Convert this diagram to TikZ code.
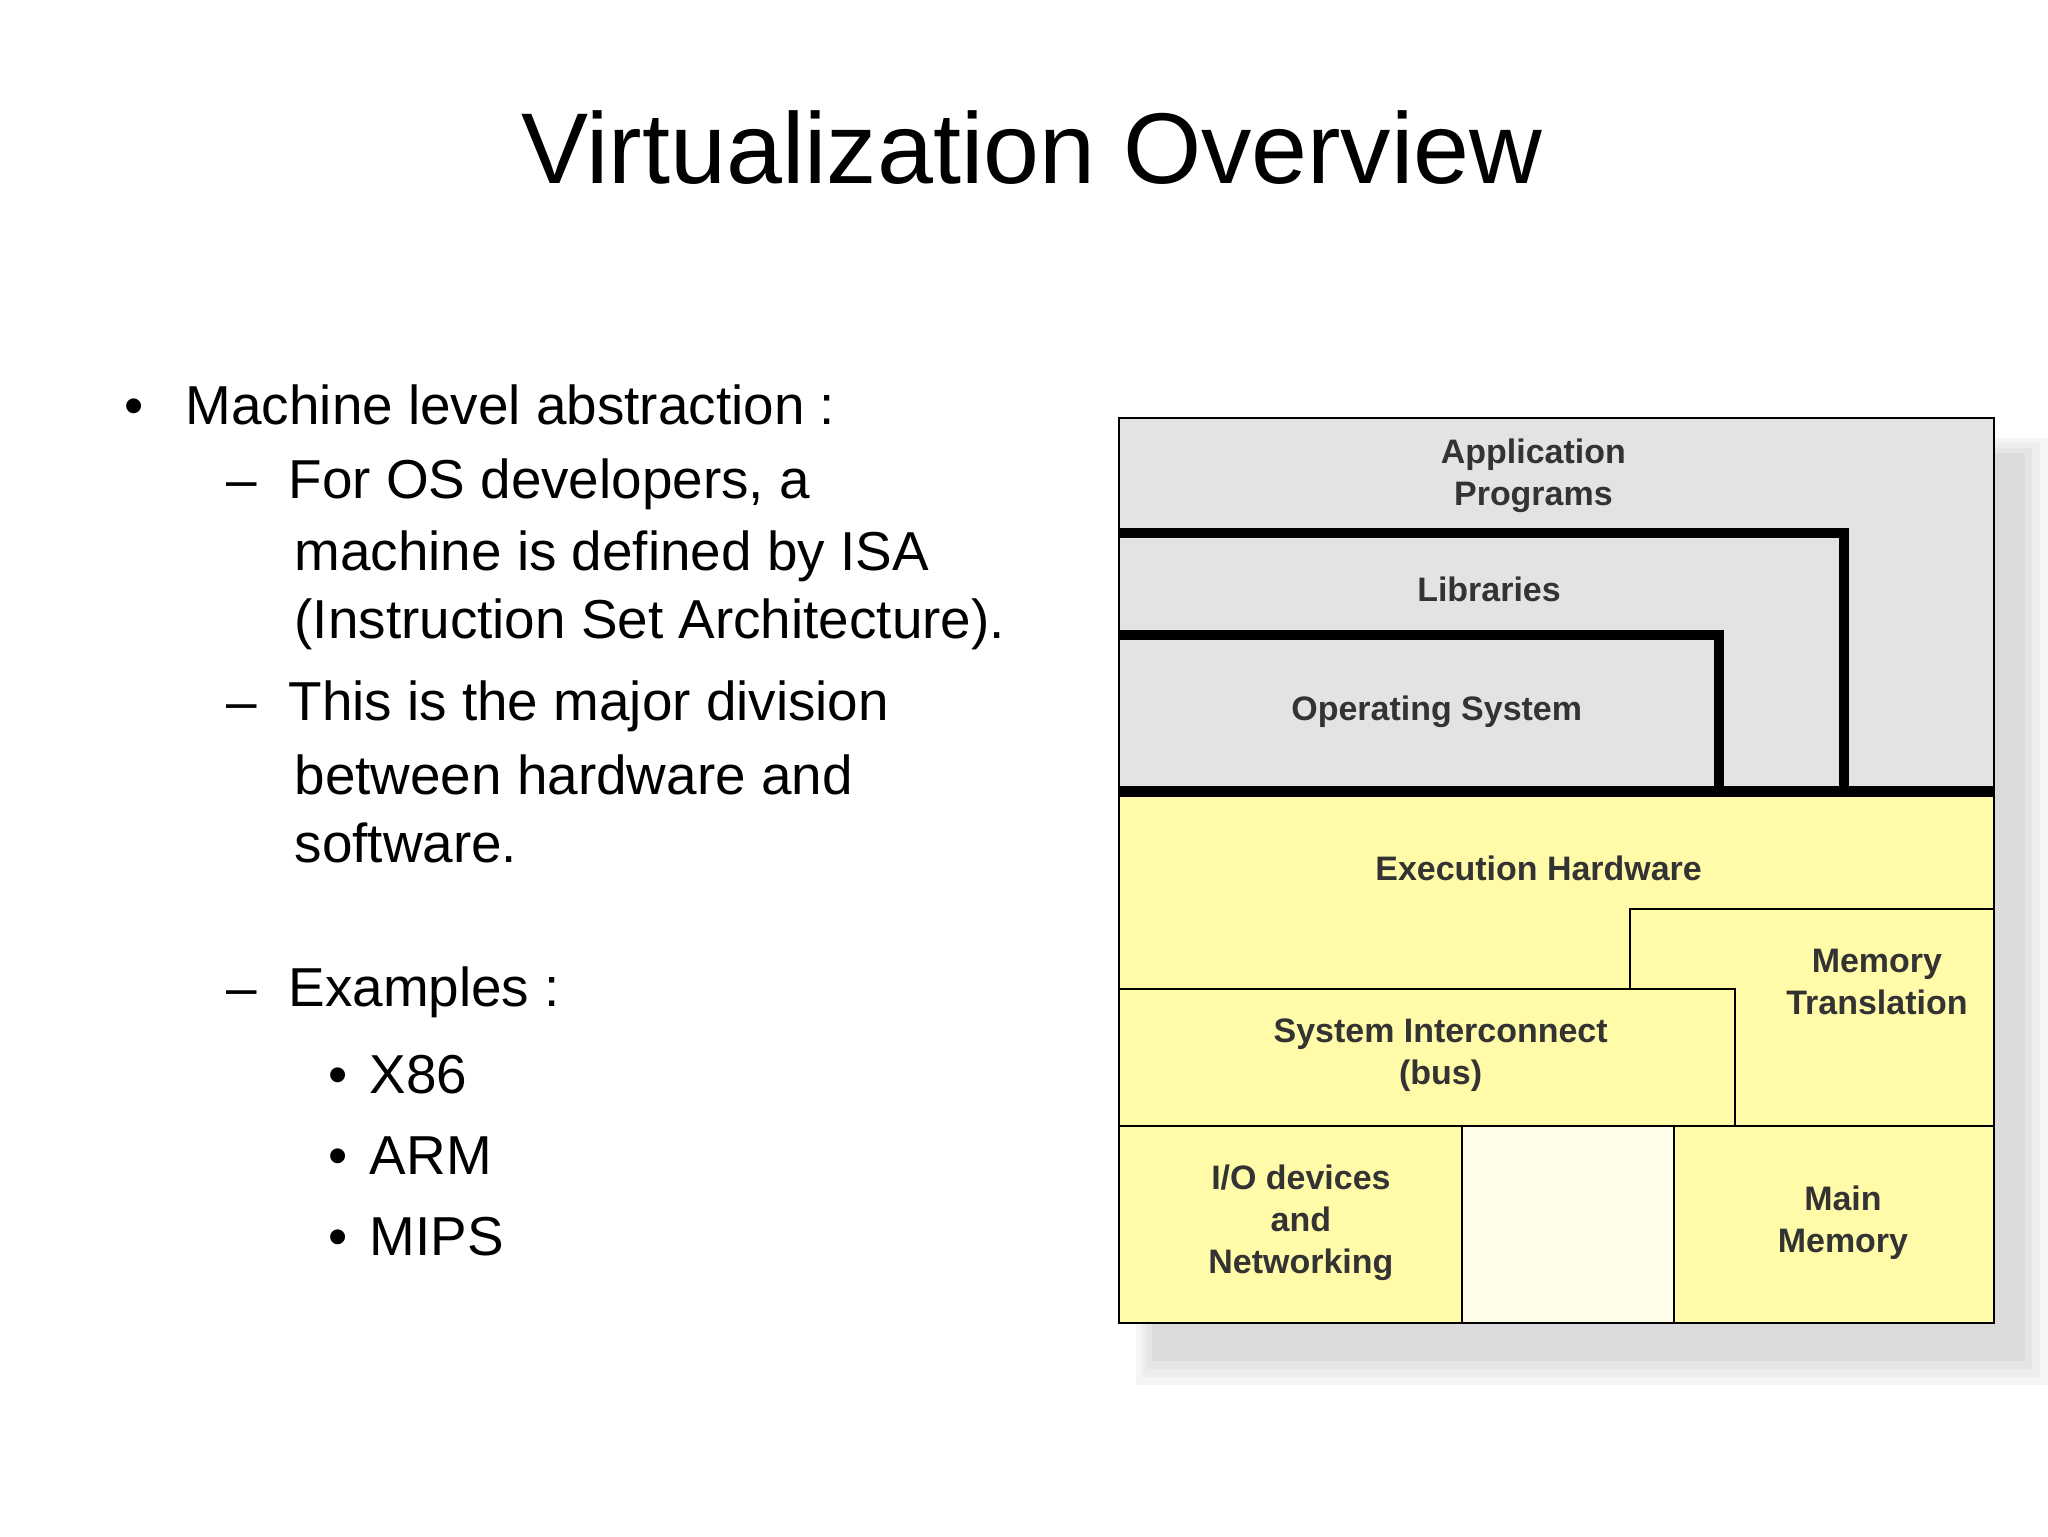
\documentclass[tikz,border=0pt]{standalone}
\usepackage{fontspec}
\setmainfont{Liberation Sans}
\definecolor{grayfill}{HTML}{E3E3E3}
\definecolor{yel}{HTML}{FFFBA8}
\definecolor{pale}{HTML}{FFFDE8}
\begin{document}
\begin{tikzpicture}[x=1pt,y=-1pt,
  lbl/.style={font=\fontsize{26}{32}\selectfont\bfseries\color{black!80}, align=center},
  body/.style={font=\fontsize{42}{52}\selectfont, anchor=west},
  thin/.style={draw=black, line width=1.5pt},
  thick/.style={draw=black, line width=8pt}]
\useasboundingbox (0,0) rectangle (1568,1176);
\fill[white] (0,0) rectangle (1568,1176);
% shadow
\foreach \i/\c in {0/black!4,1/black!7,2/black!10,3/black!14}{
  \fill[\c] (870+4*\i,335+4*\i) rectangle (1568-6*\i,1060-6*\i);}
\node (title) at (790,113) {\fontsize{77}{90}\selectfont Virtualization Overview};
% bullets
\node[body] (b1) at (92,310) {•\hspace{32pt}Machine level abstraction :};
\node[body, anchor=north west, align=left] (b2) at (170,348) {–\hspace{24pt}For OS developers, a};
\node[body] (b2a) at (222,426) {machine is defined by ISA};
\node[body] (b2b) at (222,478) {(Instruction Set Architecture).};
\node[body] (b3) at (170,541) {–\hspace{24pt}This is the major division};
\node[body] (b3a) at (222,593) {between hardware and};
\node[body] (b3b) at (222,645) {software.};
\node[body] (b4) at (170,760) {–\hspace{24pt}Examples :};
\node[body] (e1) at (248,823) {•\hspace{17pt}X86};
\node[body] (e2) at (248,885) {•\hspace{17pt}ARM};
\node[body] (e3) at (248,947) {•\hspace{17pt}MIPS};
% diagram
\fill[grayfill] (857,320) rectangle (1527,606);
\fill[yel] (857,606) rectangle (1527,1013);
\fill[pale] (1119,862) rectangle (1282,1013);
\draw[thin] (857,320) rectangle (1527,1013);
\draw[thick] (857,408) -- (1412,408) -- (1412,606);
\draw[thick] (857,486) -- (1316,486) -- (1316,606);
\draw[thick] (857,606) -- (1527,606);
\draw[thin] (1248,757) -- (1248,696) -- (1527,696);
\draw[thin] (857,757) -- (1328,757) -- (1328,862);
\draw[thin] (857,862) -- (1527,862);
\draw[thin] (1119,862) -- (1119,1013);
\draw[thin] (1282,862) -- (1282,1013);
\node[lbl] (app) at (1174,364) {Application\\Programs};
\node[lbl] (lib) at (1140,451) {Libraries};
\node[lbl] (os) at (1100,545) {Operating System};
\node[lbl] (exe) at (1178,665) {Execution Hardware};
\node[lbl] (mt) at (1437,752) {Memory\\Translation};
\node[lbl] (si) at (1103,808) {System Interconnect\\(bus)};
\node[lbl] (io) at (996,936) {I/O devices\\and\\Networking};
\node[lbl] (mm) at (1411,936) {Main\\Memory};
\end{tikzpicture}
\end{document}
